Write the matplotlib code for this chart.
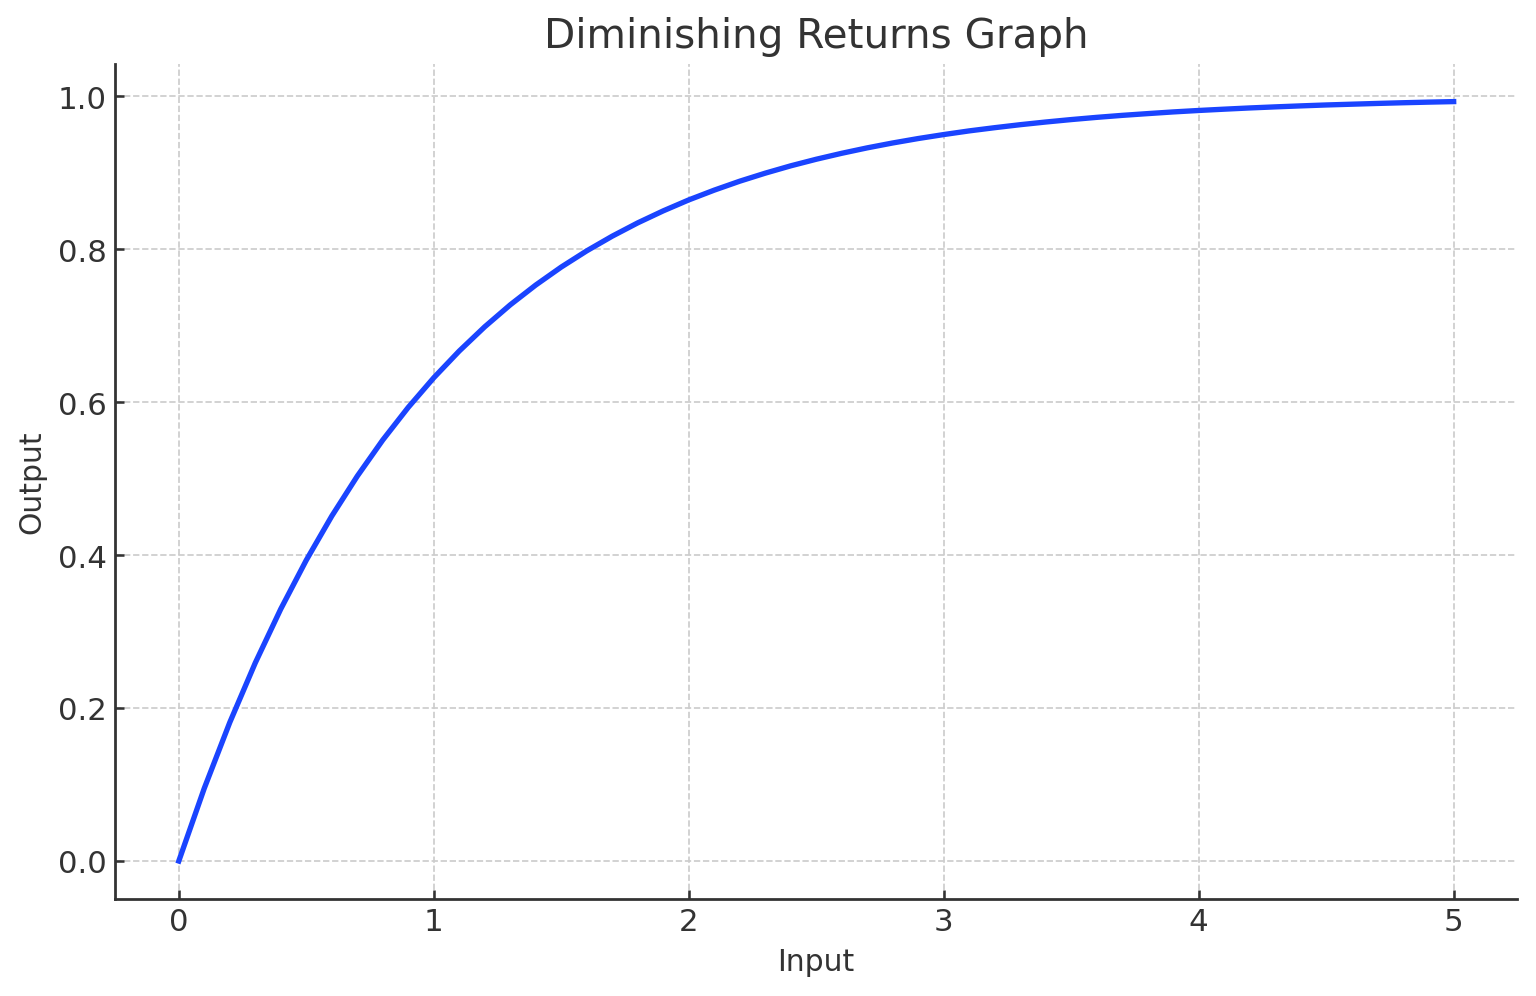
import numpy as np
import matplotlib
matplotlib.use('Agg')
import matplotlib.pyplot as plt

# values
input_vals = [0.0, 0.1, 0.2, 0.3, 0.4, 0.5, 0.6, 0.7, 0.8, 0.9,
              1.0, 1.1, 1.2, 1.3, 1.4, 1.5, 1.6, 1.7, 1.8, 1.9,
              2.0, 2.1, 2.2, 2.3, 2.4, 2.5, 2.6, 2.7, 2.8, 2.9,
              3.0, 3.1, 3.2, 3.3, 3.4, 3.5, 3.6, 3.7, 3.8, 3.9,
              4.0, 4.1, 4.2, 4.3, 4.4, 4.5, 4.6, 4.7, 4.8, 4.9, 5.0]
output_vals = [0.0000, 0.0952, 0.1813, 0.2592, 0.3297, 0.3935, 0.4512, 0.5034, 0.5507, 0.5934,
               0.6321, 0.6671, 0.6988, 0.7275, 0.7534, 0.7769, 0.7981, 0.8173, 0.8347, 0.8504,
               0.8647, 0.8775, 0.8892, 0.8997, 0.9093, 0.9179, 0.9257, 0.9328, 0.9392, 0.9450,
               0.9502, 0.9550, 0.9592, 0.9631, 0.9666, 0.9698, 0.9727, 0.9753, 0.9776, 0.9798,
               0.9817, 0.9834, 0.9850, 0.9864, 0.9877, 0.9889, 0.9899, 0.9909, 0.9918, 0.9926, 0.9933]

text_col = '#333333'
plt.rcParams['font.family'] = 'DejaVu Sans'

fig = plt.figure(figsize=(10, 6.49), dpi=153.6)
ax = fig.add_axes([0.0749, 0.0973, 0.913, 0.838])

ax.plot(input_vals, output_vals, color='#1a44ff', linewidth=2.5)

ax.set_title('Diminishing Returns Graph', fontsize=19, color=text_col, pad=7.5)
ax.set_xlabel('Input', fontsize=14, color=text_col, labelpad=5)
ax.set_ylabel('Output', fontsize=14, color=text_col, labelpad=5)
ax.set_xticks([0, 1, 2, 3, 4, 5])
ax.set_yticks([0.0, 0.2, 0.4, 0.6, 0.8, 1.0])
ax.tick_params(labelsize=14.5, colors=text_col, direction='in', length=4, width=1.2, pad=4)
ax.grid(True, linestyle='--', color='#cccccc', linewidth=0.8)

for side in ['top', 'right']:
	ax.spines[side].set_visible(False)
for side in ['left', 'bottom']:
	ax.spines[side].set_color(text_col)
	ax.spines[side].set_linewidth(1.3)

fig.savefig('out.png', dpi=153.6)
